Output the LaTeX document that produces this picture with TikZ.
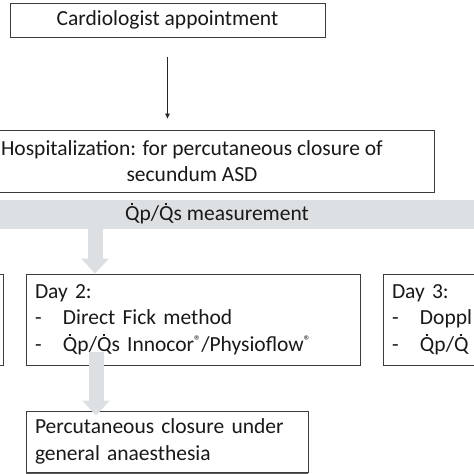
\documentclass[tikz,border=0pt]{standalone}
\usepackage{fontspec}
\setmainfont{Carlito}
\usepackage{tikz}
\usetikzlibrary{arrows.meta,positioning,shadows}
\definecolor{bandgrey}{HTML}{DDE0E2}
\definecolor{edgegrey}{HTML}{3C3C3C}
\newcommand{\qd}{{\ooalign{Q\cr\hidewidth\raisebox{0.7em}{\rule{0.1em}{0.1em}}\hspace{0.04em}\hidewidth\cr}}}
\newcommand{\itm}{\makebox[28pt][l]{-}}
\newcommand{\reg}{\raisebox{0.25em}{\fontsize{14}{14}\selectfont ®}}

\begin{document}
\begin{tikzpicture}[
  x=1pt, y=-1pt,
  every node/.style={font=\fontsize{21.5}{26.5}\selectfont, text=black!90},
  block/.style={rectangle, draw=edgegrey, line width=0.9pt, fill=white, inner sep=0pt, align=center},
  daybox/.style={block, minimum width=334pt, minimum height=91pt, align=left, text width=316pt},
  band/.style={rectangle, fill=bandgrey, inner sep=0pt, minimum width=600pt, minimum height=29pt},
  line/.style={-{Triangle[length=5pt, width=4.5pt]}, line width=0.6pt, draw=black!85},
  fat/.style={-{Triangle[length=15pt, width=27pt]}, line width=15pt, draw=bandgrey}
]
\useasboundingbox (0,0) rectangle (474,474);
\clip (0,0) rectangle (474,474);

\node[block, minimum width=315pt, minimum height=34pt] (appt) at (167.5,20) {Cardiologist appointment};
\node[block, minimum width=484pt, minimum height=62pt] (hosp) at (192,161) {Hospitalization: for percutaneous closure of\\secundum ASD};
\node[band] (meas) at (217,214.5) {\qd p/\qd s measurement};

\node[daybox] (day1) at (-164,319.5) {};
\node[daybox] (day2) at (193,319.5) {Day 2:\\\itm Direct Fick method\\\itm \qd p/\qd s Innocor\reg/Physioflow\reg};
\node[daybox] (day3) at (550,319.5) {Day 3:\\\itm Doppl\\\itm \qd p/\qd};

\node[block, minimum width=282pt, minimum height=61pt, align=left, text width=264pt,
  drop shadow={shadow xshift=0pt, shadow yshift=-2pt, fill=black!65, opacity=1}] (perc) at (167,441.5)
  {Percutaneous closure under\\general anaesthesia};

\coordinate (a1) at (95,229);
\coordinate (a2) at (96,352);

\draw[line, shorten <=20pt, shorten >=11pt] (appt.south) -- (appt.south |- hosp.north);
\draw[fat] (a1) -- (a1 |- day2.north);
\draw[fat, shorten >=-5pt] (a2) -- (a2 |- perc.north);
\end{tikzpicture}
\end{document}
